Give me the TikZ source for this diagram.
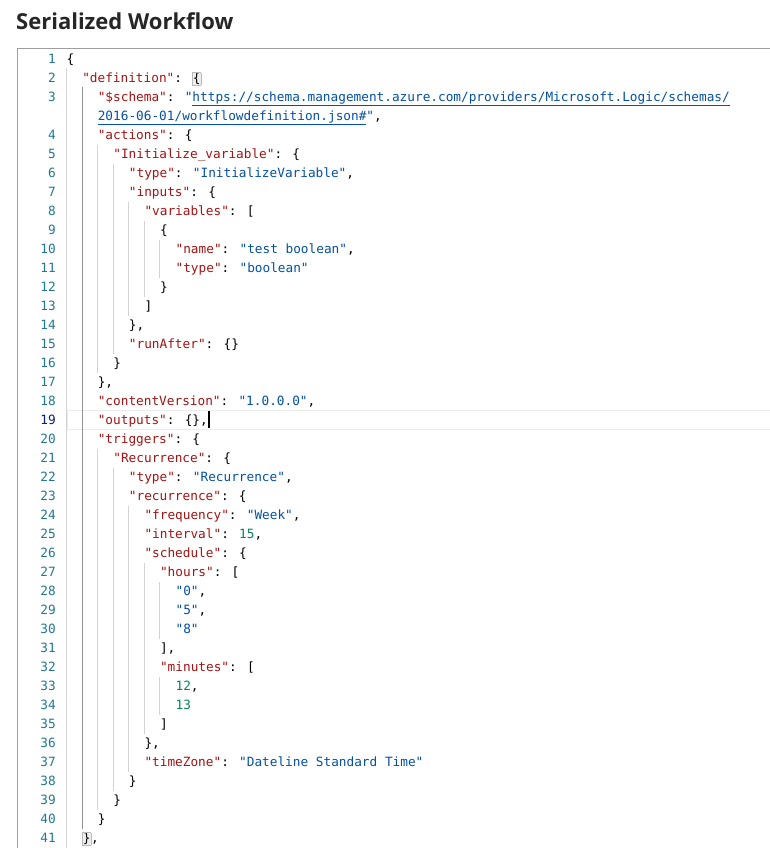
\documentclass[tikz,border=0pt]{standalone}
\usepackage{fontspec}
\newfontfamily\codefont{DejaVu Sans Mono}
\newfontfamily\titlefont{Open Sans}
\definecolor{keyc}{HTML}{A31515}
\definecolor{strc}{HTML}{0451A5}
\definecolor{numc}{HTML}{098658}
\definecolor{lnc}{HTML}{237893}
\definecolor{lnact}{HTML}{0B216F}
\definecolor{guidec}{HTML}{D3D3D3}
\definecolor{guideact}{HTML}{939393}
\definecolor{framec}{HTML}{9E9E9E}
\definecolor{bmfill}{HTML}{EDEDED}
\definecolor{bmborder}{HTML}{B9B9B9}
\newcommand{\K}[1]{\textcolor{keyc}{#1}}
\newcommand{\Sv}[1]{\textcolor{strc}{#1}}
\newcommand{\Nv}[1]{\textcolor{numc}{#1}}
\newcommand{\bmatch}[1]{{\setlength{\fboxsep}{0pt}\setlength{\fboxrule}{0.6pt}\fcolorbox{bmborder}{bmfill}{#1}}}
\begin{document}
\begin{tikzpicture}[x=1pt,y=-1pt,
  codetext/.style={anchor=base west,inner sep=0pt,font=\codefont\fontsize{12.75}{15}\selectfont},
  lnum/.style={anchor=base east,inner sep=0pt,text=lnc,font=\codefont\fontsize{12.75}{15}\selectfont},
  guide/.style={draw=guidec,line width=0.8pt},
  guideA/.style={draw=guideact,line width=0.8pt}]
\useasboundingbox (0,0) rectangle (770,848);
\fill[white] (0,0) rectangle (770,848);
\node[anchor=base west,inner sep=0pt,font=\titlefont\bfseries\fontsize{22}{26}\selectfont,text=black!85] (title) at (16,30) {Serialized Workflow};
% editor frame
\draw[framec,line width=0.9pt] (17,848) -- (17,48.5) -- (770,48.5);
% current line highlight
\draw[draw=black!8,line width=1pt] (67,410) rectangle (771,429.5);
% guides: #1 row, #2 levels
\newcommand{\guides}[2]{%
  \ifnum#2>0
  \foreach \k in {1,...,#2}{%
    \pgfmathtruncatemacro{\kk}{\k-1}%
    \ifnum\kk=1
      \draw[guideA] (66.5+15.56*\kk, 49.5+19*#1) -- ++(0,19);
    \else
      \draw[guide] (66.5+15.56*\kk, 49.5+19*#1) -- ++(0,19);
    \fi}%
  \fi}
\newcommand{\codeline}[5]{% row, level, number, content, name
  \guides{#1}{#2}
  \node[codetext] (#5) at (66.5+15.56*#2, 63.5+19*#1) {#4};
  \node[lnum] (n#5) at (56, 63.5+19*#1) {#3};}
\codeline{0}{0}{1}{\{}{c0}
\codeline{1}{1}{2}{\K{"definition"}: \bmatch{\{}}{c1}
\codeline{2}{2}{3}{\K{"\$schema"}: \Sv{"\underline{https://schema.management.azure.com/providers/Microsoft.Logic/schemas/}}}{c2}
\codeline{3}{2}{}{\Sv{\underline{2016-06-01/workflowdefinition.json\#}"},}{c3}
\codeline{4}{2}{4}{\K{"actions"}: \{}{c4}
\codeline{5}{3}{5}{\K{"Initialize\_variable"}: \{}{c5}
\codeline{6}{4}{6}{\K{"type"}: \Sv{"InitializeVariable"},}{c6}
\codeline{7}{4}{7}{\K{"inputs"}: \{}{c7}
\codeline{8}{5}{8}{\K{"variables"}: [}{c8}
\codeline{9}{6}{9}{\{}{c9}
\codeline{10}{7}{10}{\K{"name"}: \Sv{"test boolean"},}{c10}
\codeline{11}{7}{11}{\K{"type"}: \Sv{"boolean"}}{c11}
\codeline{12}{6}{12}{\}}{c12}
\codeline{13}{5}{13}{]}{c13}
\codeline{14}{4}{14}{\},}{c14}
\codeline{15}{4}{15}{\K{"runAfter"}: \{\}}{c15}
\codeline{16}{3}{16}{\}}{c16}
\codeline{17}{2}{17}{\},}{c17}
\codeline{18}{2}{18}{\K{"contentVersion"}: \Sv{"1.0.0.0"},}{c18}
\codeline{19}{2}{\textcolor{lnact}{19}}{\K{"outputs"}: \{\},}{c19}
\codeline{20}{2}{20}{\K{"triggers"}: \{}{c20}
\codeline{21}{3}{21}{\K{"Recurrence"}: \{}{c21}
\codeline{22}{4}{22}{\K{"type"}: \Sv{"Recurrence"},}{c22}
\codeline{23}{4}{23}{\K{"recurrence"}: \{}{c23}
\codeline{24}{5}{24}{\K{"frequency"}: \Sv{"Week"},}{c24}
\codeline{25}{5}{25}{\K{"interval"}: \Nv{15},}{c25}
\codeline{26}{5}{26}{\K{"schedule"}: \{}{c26}
\codeline{27}{6}{27}{\K{"hours"}: [}{c27}
\codeline{28}{7}{28}{\Sv{"0"},}{c28}
\codeline{29}{7}{29}{\Sv{"5"},}{c29}
\codeline{30}{7}{30}{\Sv{"8"}}{c30}
\codeline{31}{6}{31}{],}{c31}
\codeline{32}{6}{32}{\K{"minutes"}: [}{c32}
\codeline{33}{7}{33}{\Nv{12},}{c33}
\codeline{34}{7}{34}{\Nv{13}}{c34}
\codeline{35}{6}{35}{]}{c35}
\codeline{36}{5}{36}{\},}{c36}
\codeline{37}{5}{37}{\K{"timeZone"}: \Sv{"Dateline Standard Time"}}{c37}
\codeline{38}{4}{38}{\}}{c38}
\codeline{39}{3}{39}{\}}{c39}
\codeline{40}{2}{40}{\}}{c40}
\codeline{41}{1}{41}{\bmatch{\}},}{c41}
% cursor
\draw[black,line width=1.2pt] ([xshift=1pt]c19.east |- 0,411) -- ([xshift=1pt]c19.east |- 0,428);
\end{tikzpicture}
\end{document}
